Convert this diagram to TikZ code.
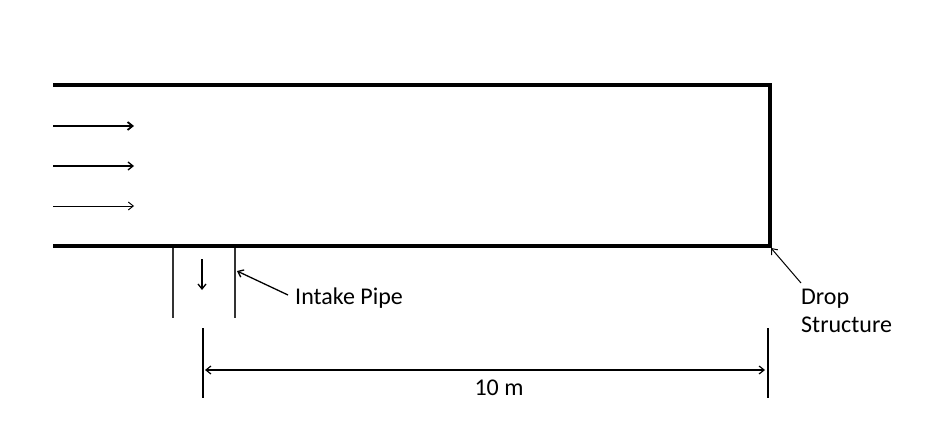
\documentclass[tikz,border=0pt]{standalone}
\usepackage{fontspec}
\setmainfont{Carlito}
\usetikzlibrary{arrows.meta}
\begin{document}
\begin{tikzpicture}[x=1pt,y=-1pt,
  wall/.style={line width=3.2pt,line cap=butt,line join=miter},
  pipe/.style={line width=1.4pt, draw=black!80},
  flow/.style={-{Straight Barb[length=5pt,width=8pt]}},
  lbl/.style={font=\fontsize{24}{28}\selectfont, inner sep=0pt, anchor=west, align=left},
]
\useasboundingbox (0,0) rectangle (936,446);
% channel
\coordinate (tl) at (53,85);
\coordinate (tr) at (770,85);
\coordinate (br) at (770,246);
\coordinate (bl) at (53,246);
\draw[wall] (tl) -- (tr) -- ([yshift=1.6pt]br);
\draw[wall,line width=3.6pt] (bl) -- ([xshift=1.6pt]br);
% flow arrows
\coordinate (f1a) at (53,126); \coordinate (f1b) at (134,126);
\coordinate (f2a) at (53,166); \coordinate (f2b) at (134,166);
\coordinate (f3a) at (53,206); \coordinate (f3b) at (134,206);
\draw[flow,line width=1.8pt] (f1a) -- (f1b);
\draw[flow,line width=1.3pt] (f2a) -- (f2b);
\draw[flow,line width=0.9pt] (f3a) -- (f3b);
% intake pipe
\coordinate (pl1) at (173,248); \coordinate (pl2) at (173,318);
\coordinate (pr1) at (235,248); \coordinate (pr2) at (235,318);
\draw[pipe] (pl1) -- (pl2);
\draw[pipe] (pr1) -- (pr2);
\coordinate (d1) at (202,259); \coordinate (d2) at (202,290);
\draw[flow,line width=1.3pt] (d1) -- (d2);
% labels
\node[lbl] (intake) at (295,298) {Intake Pipe};
\draw[-{Straight Barb[length=5pt,width=8pt]},line width=1.3pt] (intake.west) ++(-7,-3) coordinate (ia) -- (237,271);
\node[lbl,anchor=north west] (drop) at (801,289) {Drop\\Structure};
\draw[-{Straight Barb[length=5pt,width=8pt]},line width=1pt] (drop.north west) ++(0,-6) coordinate (da) -- (771,248);
% dimension
\coordinate (e1a) at (203,328); \coordinate (e1b) at (203,398);
\coordinate (e2a) at (768,328); \coordinate (e2b) at (768,398);
\draw[line width=1.3pt] (e1a) -- (e1b);
\draw[line width=1.3pt] (e2a) -- (e2b);
\coordinate (m1) at (205,370); \coordinate (m2) at (765,370);
\draw[line width=1.2pt,{Straight Barb[length=5pt,width=8pt]}-{Straight Barb[length=5pt,width=8pt]}] (m1) -- (m2);
\node[lbl,anchor=center] (dim) at (499,388) {10 m};
\end{tikzpicture}
\end{document}
